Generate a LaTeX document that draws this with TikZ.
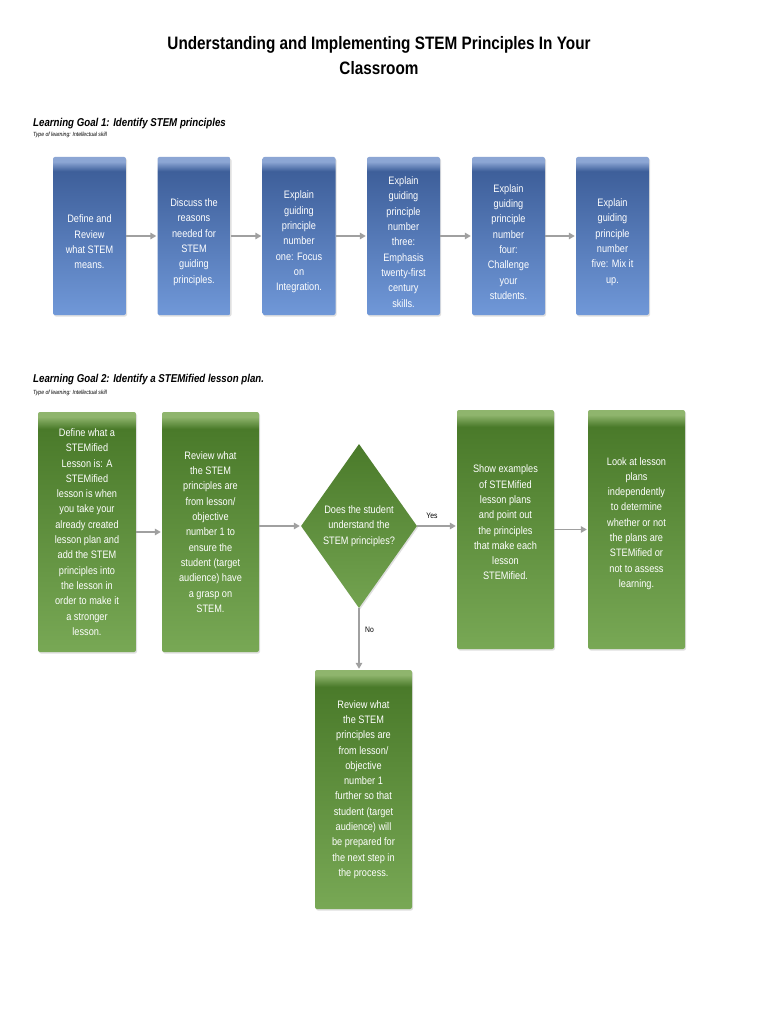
\documentclass[tikz,border=0pt]{standalone}
\usepackage{fontspec}
\setmainfont{Liberation Sans}[FakeStretch=0.85]
\usepackage{xcolor}
\usepackage{tikz}
\usetikzlibrary{positioning,arrows.meta,shapes.geometric,shadows}
\definecolor{bluelow}{RGB}{112,152,216}
\definecolor{bluedeep}{RGB}{62,95,154}
\definecolor{bluecap}{RGB}{140,166,212}
\definecolor{greenlow}{RGB}{120,168,85}
\definecolor{greendeep}{RGB}{74,122,42}
\definecolor{greencap}{RGB}{143,181,109}
\definecolor{flowgray}{RGB}{160,160,160}
\pgfdeclareverticalshading{bluestep}{100bp}{color(0bp)=(bluelow); color(25bp)=(bluelow); color(70.5bp)=(bluedeep); color(73.5bp)=(bluecap); color(100bp)=(bluecap)}
\pgfdeclareverticalshading{greenstep}{100bp}{color(0bp)=(greenlow); color(25bp)=(greenlow); color(71.5bp)=(greendeep); color(74bp)=(greencap); color(100bp)=(greencap)}
\pgfdeclareverticalshading{greenpoint}{100bp}{color(0bp)=(greenlow!90!greendeep); color(25bp)=(greenlow!90!greendeep); color(75bp)=(greendeep); color(100bp)=(greendeep)}

\begin{document}
\begin{tikzpicture}[x=1pt, y=-1pt, >=Stealth,
  bluebox/.style={rectangle, rounded corners=2pt, shading=bluestep, minimum width=73pt, minimum height=158pt, inner sep=0pt,
    drop shadow={shadow xshift=1pt, shadow yshift=-1.5pt, opacity=0.25}},
  greenbox/.style={rectangle, rounded corners=2pt, shading=greenstep, minimum width=97pt, minimum height=239pt, inner sep=0pt,
    drop shadow={shadow xshift=1pt, shadow yshift=-1.5pt, opacity=0.25}},
  boxtext/.style={text=white, align=center, inner sep=0pt, font=\fontsize{10.8}{15.3}\selectfont},
  flow/.style={draw=flowgray, line width=1.6pt, -{Triangle[length=6pt, width=6.5pt]}, shorten >=1pt},
  goal/.style={anchor=west, inner sep=0pt, font=\fontsize{11.4}{13}\selectfont\bfseries\itshape},
  kind/.style={anchor=west, inner sep=0pt, font=\fontsize{6}{7}\selectfont\itshape}]

\useasboundingbox[fill=white] (0,0) rectangle (768,1024);

\node[align=center, font=\fontsize{18}{25}\selectfont\bfseries] (title) at (379,55.5)
  {Understanding and Implementing STEM Principles In Your\\Classroom};

% goal 1
\node[goal] (goal1) at (33,124) {Learning Goal 1: Identify STEM principles};
\node[kind] (kind1) at (33,134.5) {Type of learning: Intellectual skill};

\node[bluebox] (b1) at (89.5,236) {};
\node[bluebox] (b2) at (194,236) {};
\node[bluebox] (b3) at (299,236) {};
\node[bluebox] (b4) at (403.5,236) {};
\node[bluebox] (b5) at (508.5,236) {};
\node[bluebox] (b6) at (612.5,236) {};

\node[boxtext] (b1t) at ([yshift=-6pt]b1.center) {Define and\\Review\\what STEM\\means.};
\node[boxtext] (b2t) at ([yshift=-6pt]b2.center) {Discuss the\\reasons\\needed for\\STEM\\guiding\\principles.};
\node[boxtext] (b3t) at ([yshift=-6pt]b3.center) {Explain\\guiding\\principle\\number\\one: Focus\\on\\Integration.};
\node[boxtext] (b4t) at ([yshift=-6pt]b4.center) {Explain\\guiding\\principle\\number\\three:\\Emphasis\\twenty-first\\century\\skills.};
\node[boxtext] (b5t) at ([yshift=-6pt]b5.center) {Explain\\guiding\\principle\\number\\four:\\Challenge\\your\\students.};
\node[boxtext] (b6t) at ([yshift=-6pt]b6.center) {Explain\\guiding\\principle\\number\\five: Mix it\\up.};

\draw[flow] (b1) -- (b2);
\draw[flow] (b2) -- (b3);
\draw[flow] (b3) -- (b4);
\draw[flow] (b4) -- (b5);
\draw[flow] (b5) -- (b6);

% goal 2
\node[goal] (goal2) at (33,380) {Learning Goal 2: Identify a STEMified lesson plan.};
\node[kind] (kind2) at (33,393) {Type of learning: Intellectual skill};

\node[greenbox, minimum width=98pt, minimum height=240pt] (gA) at (87,532) {};
\node[greenbox, minimum height=240pt] (gB) at (210.5,532) {};
\node[diamond, shading=greenpoint, minimum width=116pt, minimum height=164pt, inner sep=0pt,
  drop shadow={shadow xshift=1pt, shadow yshift=-1.5pt, opacity=0.25}] (dq) at (359,526) {};
\node[greenbox] (gC) at (505.5,529.5) {};
\node[greenbox] (gD) at (636.5,529.5) {};
\node[greenbox] (gE) at (363.5,789.5) {};

\node[boxtext] (gAt) at (gA.center) {Define what a\\STEMified\\Lesson is: A\\STEMified\\lesson is when\\you take your\\already created\\lesson plan and\\add the STEM\\principles into\\the lesson in\\order to make it\\a stronger\\lesson.};
\node[boxtext] (gBt) at (gB.center) {Review what\\the STEM\\principles are\\from lesson/\\objective\\number 1 to\\ensure the\\student (target\\audience) have\\a grasp on\\STEM.};
\node[boxtext] (dqt) at (dq.center) {Does the student\\understand the\\STEM principles?};
\node[boxtext] (gCt) at ([yshift=7pt]gC.center) {Show examples\\of STEMified\\lesson plans\\and point out\\the principles\\that make each\\lesson\\STEMified.};
\node[boxtext] (gDt) at ([yshift=6pt]gD.center) {Look at lesson\\plans\\independently\\to determine\\whether or not\\the plans are\\STEMified or\\not to assess\\learning.};
\node[boxtext] (gEt) at (gE.center) {Review what\\the STEM\\principles are\\from lesson/\\objective\\number 1\\further so that\\student (target\\audience) will\\be prepared for\\the next step in\\the process.};

\draw[flow] (gA) -- (gB);
\draw[flow] (gB.east |- dq.west) -- (dq.west);
\draw[flow] (dq.east) -- (dq.east -| gC.west);
\draw[flow] (gC) -- (gD);
\draw[flow] (dq.south) -- (dq.south |- gE.north);

\node[font=\fontsize{8}{9}\selectfont] (yes) at (432,516) {Yes};
\node[font=\fontsize{8}{9}\selectfont] (no) at (369.5,630) {No};

\end{tikzpicture}
\end{document}
